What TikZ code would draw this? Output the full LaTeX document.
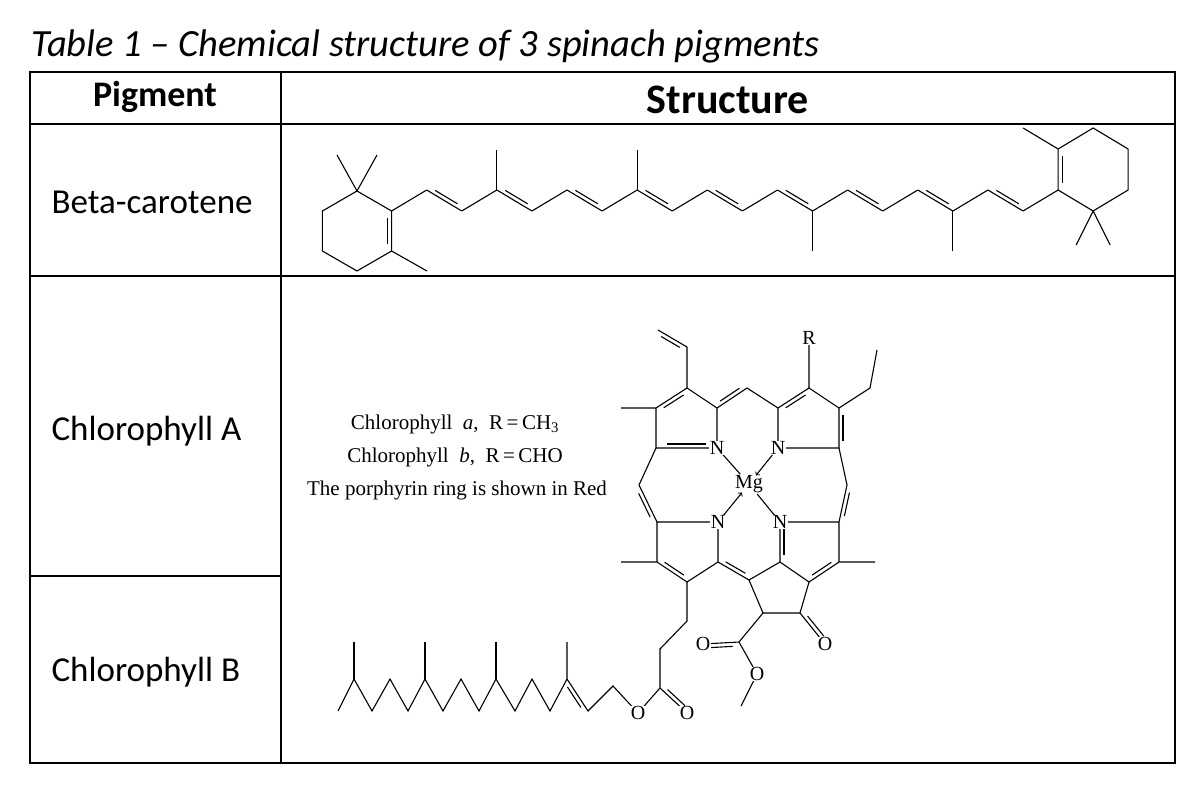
\documentclass[tikz,border=0pt]{standalone}
\usepackage{fontspec}
\setmainfont{Carlito}
\newfontfamily\chemfont{Liberation Serif}
\usetikzlibrary{calc}
\newcommand\db[3][90]{\draw ($(#2)!0.18!(#3)!4pt!#1:(#3)$) -- ($(#2)!0.82!(#3)!4pt!#1:(#3)$);}
\tikzset{atom/.style={fill=white,inner sep=0.6pt,font=\chemfont\fontsize{20}{20}\selectfont},
 tline/.style={line width=1.5pt},
 mol/.style={line width=1.1pt}}
\begin{document}
\begin{tikzpicture}[x=1pt,y=-1pt]
\useasboundingbox (0,0) rectangle (1198,798);
\fill[white] (0,0) rectangle (1198,798);
% title
\node[anchor=west,font=\itshape\fontsize{38.5}{38.5}\selectfont] (title) at (28,46) {Table 1 – Chemical structure of 3 spinach pigments};
% table
\coordinate (tl) at (30,72); \coordinate (br) at (1175,763);
\draw[tline] (tl) rectangle (br);
\draw[tline] (30,124) -- (1175,124);
\draw[tline] (30,276) -- (1175,276);
\draw[tline] (281,72) -- (281,763);
\draw[tline] (30,576) -- (281,576);
\node[font=\bfseries\fontsize{36}{36}\selectfont] (h1) at (155,97) {Pigment};
\node[font=\bfseries\fontsize{42}{42}\selectfont] (h2) at (728,100) {Structure};
\node[anchor=west,font=\fontsize{35}{35}\selectfont] (r1) at (48,202) {Beta-carotene};
\node[anchor=west,font=\fontsize{35}{35}\selectfont] (r2) at (48,431) {Chlorophyll A};
\node[anchor=west,font=\fontsize{35}{35}\selectfont] (r3) at (48,672) {Chlorophyll B};
% ---------- beta-carotene ----------
\begin{scope}[mol]
\coordinate (L1) at (357,191); \coordinate (L2) at (391.6,211); \coordinate (L3) at (391.6,251);
\coordinate (L4) at (357,271); \coordinate (L5) at (322.4,251); \coordinate (L6) at (322.4,211);
\coordinate (Lm1) at (337,155); \coordinate (Lm2) at (377,155); \coordinate (Lm3) at (427,271);
\draw (L1)--(L2)--(L3)--(L4)--(L5)--(L6)--(L1);
\db[-90]{L2}{L3}
\draw (L1)--(Lm1) (L1)--(Lm2) (L3)--(Lm3);
\foreach \i in {0,...,19}{
  \pgfmathsetmacro\xx{391.6+\i*35.08}
  \pgfmathsetmacro\yy{ifthenelse(mod(\i,2)==0,211,190)}
  \coordinate (c\i) at (\xx,\yy);
}
\foreach \i [evaluate=\i as \j using int(\i+1)] in {0,...,18}{ \draw (c\i)--(c\j); }
\foreach \i [evaluate=\i as \j using int(\i+1)] in {1,3,...,17}{ \db[90]{c\i}{c\j} }
\coordinate (cm3) at ($(c3)+(0,-40)$); \coordinate (cm7) at ($(c7)+(0,-40)$);
\coordinate (cm12) at ($(c12)+(0,40)$); \coordinate (cm16) at ($(c16)+(0,40)$);
\draw (c3)--(cm3) (c7)--(cm7) (c12)--(cm12) (c16)--(cm16);
\coordinate (Q1) at ($(c19)+(0,-41)$); \coordinate (Q2) at ($(c19)+(35,-62)$);
\coordinate (Q3) at ($(c19)+(70,-41)$); \coordinate (Q4) at ($(c19)+(70,0)$);
\coordinate (Q5) at ($(c19)+(35,21)$);
\draw (c19)--(Q1)--(Q2)--(Q3)--(Q4)--(Q5)--(c19);
\db[90]{Q1}{c19}
\coordinate (Qm1) at ($(Q1)+(-35,-21)$); \coordinate (Qm2) at ($(Q5)+(-17,34)$); \coordinate (Qm3) at ($(Q5)+(17,34)$);
\draw (Q1)--(Qm1) (Q5)--(Qm2) (Q5)--(Qm3);
\end{scope}
% ---------- chlorophyll ----------
\begin{scope}[mol]
\coordinate (A1) at (656,408); \coordinate (A2) at (687,388); \coordinate (A3) at (717,408);
\coordinate (NA) at (717,448); \coordinate (A5) at (656,448);
\coordinate (V1) at (687,347); \coordinate (V2) at (658,330); \coordinate (MA) at (621,408);
\coordinate (M1) at (747,388);
\coordinate (B1) at (778,408); \coordinate (B2) at (809,388); \coordinate (B3) at (839,408);
\coordinate (B4) at (839,448); \coordinate (NB) at (778,448);
\coordinate (RR) at (809,338); \coordinate (E1) at (870,388); \coordinate (E2) at (877,350);
\coordinate (M2) at (847,485);
\coordinate (D1) at (839,522); \coordinate (ND) at (780,522); \coordinate (D2) at (780,562);
\coordinate (D3) at (809,582); \coordinate (D4) at (839,562); \coordinate (MD) at (875,562);
\coordinate (M3) at (749,580);
\coordinate (C1) at (657,522); \coordinate (NC) at (718,522); \coordinate (C4) at (718,562);
\coordinate (C3) at (687,582); \coordinate (C2) at (657,562); \coordinate (MC) at (621,562);
\coordinate (M4) at (639,485);
\coordinate (EK) at (800,613); \coordinate (EB) at (763,613); \coordinate (OK) at (825,644);
\coordinate (EC) at (739,642); \coordinate (EO1) at (703,644); \coordinate (EO2) at (757,674); \coordinate (EMe) at (741,706);
\coordinate (P1) at (687,621); \coordinate (P2) at (660,649); \coordinate (P3) at (660,688);
\coordinate (PO1) at (687,713); \coordinate (PO2) at (638,713);
\coordinate (T1) at (613,686); \coordinate (T2) at (588,711); \coordinate (T3) at (567,679); \coordinate (T3m) at (567,642);
\coordinate (Mg) at (749,484);
\draw (A1)--(A2)--(A3)--(NA)--(A5)--(A1);
\db[-90]{A1}{A2} \db[90]{A5}{NA}
\draw (A2)--(V1)--(V2); \db[90]{V1}{V2}
\draw (A1)--(MA) (A3)--(M1)--(B1); \db[90]{A3}{M1}
\draw (B1)--(B2)--(B3)--(B4)--(NB)--(B1);
\db[-90]{B1}{B2} \db[90]{B3}{B4}
\draw (B2)--(RR) (B3)--(E1)--(E2);
\draw (B4)--(M2)--(D1); \db[90]{M2}{D1}
\draw (D1)--(ND)--(D2)--(D3)--(D4)--(D1) (D4)--(MD);
\db[90]{ND}{D2} \db[90]{D3}{D4}
\draw (M3)--(D2) (D3)--(EK)--(EB)--(M3);
\draw (EK)--(OK); \db[90]{EK}{OK}
\draw (EB)--(EC)--(EO1) (EC)--(EO2)--(EMe); \db[90]{EC}{EO1}
\draw (C1)--(NC)--(C4)--(C3)--(C2)--(C1) (C2)--(MC);
\db[90]{C2}{C3} \draw (C4)--(M3); \db[90]{C4}{M3}
\draw (A5)--(M4)--(C1); \db[-90]{M4}{C1}
\draw (C3)--(P1)--(P2)--(P3)--(PO1) (P3)--(PO2)--(T1)--(T2)--(T3)--(T3m);
\db[90]{P3}{PO1} \db[90]{T2}{T3}
\coordinate (t1) at (550,711); \coordinate (t2) at (532,679); \coordinate (t3) at (515,711);
\coordinate (t4) at (496,679); \coordinate (t5) at (479,711); \coordinate (t6) at (461,679);
\coordinate (t7) at (443,711); \coordinate (t8) at (425,679); \coordinate (t9) at (408,711);
\coordinate (t10) at (390,679); \coordinate (t11) at (372,711); \coordinate (t12) at (354,679);
\coordinate (t13) at (338,711);
\coordinate (u4) at (496,642); \coordinate (u8) at (425,642); \coordinate (u12) at (354,642);
\draw (T3)--(t1)--(t2)--(t3)--(t4)--(t5)--(t6)--(t7)--(t8)--(t9)--(t10)--(t11)--(t12)--(t13);
\draw (t4)--(u4) (t8)--(u8) (t12)--(u12);
\draw[shorten <=8pt,shorten >=13pt] (NA)--(Mg);
\draw[shorten <=8pt,shorten >=13pt] (ND)--(Mg);
\draw[->,shorten <=8pt,shorten >=11pt] (NB)--(Mg);
\draw[->,shorten <=8pt,shorten >=11pt] (NC)--(Mg);
\end{scope}
\node[atom] (nNA) at (NA) {N}; \node[atom] (nNB) at (NB) {N};
\node[atom] (nNC) at (NC) {N}; \node[atom] (nND) at (ND) {N};
\node[atom,fill=none] (nMg) at (Mg) {Mg};
\node[atom] (nR) at (RR) {R};
\node[atom] (nOK) at (OK) {O}; \node[atom] (nEO1) at (EO1) {O}; \node[atom] (nEO2) at (EO2) {O};
\node[atom] (nPO1) at (PO1) {O}; \node[atom] (nPO2) at (PO2) {O};
\begin{scope}[every node/.style={font=\chemfont\fontsize{21}{21}\selectfont}]
\node (lg1) at (455,424) {Chlorophyll\ \ \textit{a},\ \ R\,=\,CH\textsubscript{3}};
\node (lg2) at (455,457) {Chlorophyll\ \ \textit{b},\ \ R\,=\,CHO};
\node (lg3) at (457,490) {The porphyrin ring is shown in Red};
\end{scope}
\end{tikzpicture}
\end{document}
